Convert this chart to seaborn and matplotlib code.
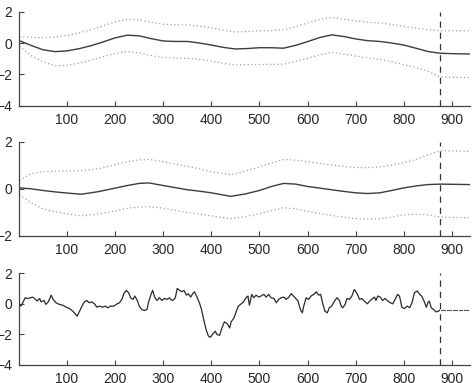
import numpy as np
import pandas as pd
import matplotlib
matplotlib.use('Agg')
import matplotlib.pyplot as plt
import seaborn as sns

# panel 1: smooth estimate with bounds
x1 = [1, 25, 50, 75, 100, 125, 150, 175, 200, 225, 250, 275, 300, 325, 350, 375, 400,
      425, 450, 475, 500, 525, 550, 575, 600, 625, 650, 675, 700, 725, 750, 775, 800,
      825, 850, 876, 900, 938]
mid1 = [0.15, -0.15, -0.43, -0.55, -0.5, -0.36, -0.17, 0.07, 0.33, 0.5, 0.46, 0.28, 0.13,
        0.1, 0.1, 0.0, -0.13, -0.28, -0.38, -0.35, -0.3, -0.3, -0.33, -0.15, 0.09, 0.35,
        0.52, 0.42, 0.26, 0.15, 0.1, 0.0, -0.13, -0.33, -0.54, -0.65, -0.68, -0.7]
up1 = [0.41, 0.37, 0.33, 0.38, 0.48, 0.65, 0.85, 1.1, 1.35, 1.52, 1.48, 1.33, 1.2, 1.17,
       1.15, 1.08, 0.98, 0.82, 0.7, 0.74, 0.78, 0.8, 0.85, 1.05, 1.28, 1.5, 1.63, 1.52,
       1.41, 1.33, 1.28, 1.18, 1.07, 0.95, 0.85, 0.78, 0.78, 0.78]
lo1 = [-0.2, -0.8, -1.2, -1.45, -1.43, -1.28, -1.1, -0.88, -0.67, -0.54, -0.63, -0.8,
       -0.93, -0.96, -0.98, -1.05, -1.15, -1.3, -1.4, -1.38, -1.37, -1.36, -1.35, -1.17,
       -0.98, -0.75, -0.59, -0.7, -0.83, -0.94, -1.04, -1.2, -1.37, -1.57, -1.8, -2.17,
       -2.19, -2.2]

# panel 2
x2 = [1, 25, 50, 75, 100, 130, 165, 200, 225, 250, 270, 300, 325, 350, 375, 400, 440,
      470, 500, 525, 550, 575, 600, 625, 650, 675, 700, 725, 750, 775, 800, 825, 850,
      876, 938]
mid2 = [0.04, 0.0, -0.07, -0.13, -0.18, -0.23, -0.12, 0.03, 0.14, 0.23, 0.25, 0.14, 0.05,
        -0.04, -0.1, -0.17, -0.32, -0.22, -0.07, 0.1, 0.23, 0.2, 0.1, 0.03, -0.04, -0.11,
        -0.17, -0.2, -0.17, -0.07, 0.04, 0.12, 0.18, 0.2, 0.18]
up2 = [0.35, 0.65, 0.73, 0.75, 0.76, 0.77, 0.85, 1.03, 1.15, 1.23, 1.25, 1.15, 1.05, 0.96,
       0.85, 0.73, 0.6, 0.75, 0.93, 1.1, 1.24, 1.22, 1.15, 1.08, 1.01, 0.95, 0.9, 0.9,
       0.93, 1.0, 1.1, 1.25, 1.44, 1.62, 1.59]
lo2 = [-0.24, -0.6, -0.85, -0.97, -1.06, -1.15, -1.07, -0.94, -0.83, -0.77, -0.76, -0.82,
       -0.92, -1.01, -1.08, -1.15, -1.27, -1.18, -1.06, -0.92, -0.8, -0.85, -0.96, -1.05,
       -1.13, -1.2, -1.27, -1.28, -1.27, -1.2, -1.1, -1.08, -1.1, -1.2, -1.23]

# panel 3: raw series
x3 = [1, 4, 8, 13, 18, 24, 29, 34, 38, 43, 46, 52, 56, 61, 67, 71, 77, 84, 91, 98, 105,
      112, 117, 121, 126, 131, 136, 141, 146, 151, 157, 162, 167, 174, 179, 185, 190,
      197, 204, 209, 214, 218, 223, 228, 232, 237, 241, 246, 250, 255, 261, 266, 270,
      275, 278, 282, 287, 292, 297, 302, 308, 313, 315, 320, 325, 329, 334, 339, 343,
      348, 352, 357, 361, 365, 370, 375, 379, 384, 389, 394, 398, 403, 408, 412, 417,
      422, 427, 433, 438, 441, 447, 452, 456, 462, 467, 472, 476, 479, 484, 488, 493,
      498, 503, 509, 514, 519, 524, 530, 535, 540, 545, 551, 555, 560, 566, 569, 574,
      580, 585, 589, 592, 597, 602, 607, 613, 618, 623, 627, 631, 636, 641, 645, 650,
      656, 661, 666, 670, 673, 678, 682, 687, 692, 697, 703, 708, 713, 718, 724, 729,
      733, 739, 742, 746, 751, 756, 761, 767, 772, 777, 782, 787, 791, 796, 801, 807,
      812, 817, 822, 828, 833, 837, 842, 847, 850, 853, 857, 862, 867, 872, 876]
y3 = [-0.03, -0.14, 0.08, 0.41, 0.36, 0.41, 0.45, 0.3, 0.19, 0.36, 0.14, 0.23, -0.03,
      0.14, 0.58, 0.3, 0.08, -0.03, -0.08, -0.21, -0.3, -0.47, -0.65, -0.8, -0.47, -0.14,
      0.14, 0.23, 0.08, 0.14, 0.01, -0.21, -0.14, -0.21, -0.14, -0.25, -0.14, -0.14, 0.01,
      0.08, 0.3, 0.67, 0.89, 0.74, 0.41, 0.3, 0.52, 0.23, -0.14, -0.36, -0.43, -0.36,
      0.19, 0.67, 0.89, 0.45, 0.23, 0.41, 0.23, 0.36, 0.3, 0.41, 0.3, 0.23, 0.41, 1.02,
      0.89, 0.8, 0.89, 0.58, 0.67, 0.45, 0.67, 0.8, 0.45, 0.08, -0.3, -1.02, -1.68,
      -2.12, -2.18, -1.96, -1.79, -2.01, -2.05, -1.57, -1.17, -1.3, -1.57, -1.17, -0.91,
      -0.47, -0.14, 0.01, 0.14, 0.41, 0.52, -0.08, 0.63, 0.41, 0.58, 0.45, 0.52, 0.63,
      0.45, 0.63, 0.41, 0.36, 0.08, 0.3, 0.41, 0.45, 0.3, 0.41, 0.67, 0.58, 0.41, 0.19,
      -0.36, -0.58, -0.14, 0.41, 0.3, 0.52, 0.63, 0.8, 0.58, 0.63, 0.08, -0.47, -0.58,
      -0.25, -0.14, 0.19, 0.41, 0.23, -0.14, -0.25, -0.03, 0.36, 0.3, 0.52, 0.95, 0.67,
      0.3, 0.36, 0.19, 0.01, 0.19, 0.3, 0.45, 0.23, 0.52, 0.45, 0.23, 0.36, 0.19, 0.08,
      0.01, 0.3, 0.63, 0.52, -0.21, -0.3, -0.14, -0.25, 0.08, 0.74, 0.85, 0.63, 0.52,
      0.19, -0.21, 0.08, 0.19, -0.25, -0.36, -0.52, -0.47, -0.38]
x3_flat = [876, 888, 900, 912, 924, 936]
y3_flat = [-0.38, -0.38, -0.38, -0.38, -0.38, -0.38]

cutoff = 876
xticks = [100, 200, 300, 400, 500, 600, 700, 800, 900]

sns.set_style('ticks')
plt.rcParams['font.family'] = ['Liberation Sans', 'DejaVu Sans']
plt.rcParams['font.size'] = 10

fig = plt.figure(figsize=(4.74, 3.83), dpi=100)
left, width = 0.041, 0.951
ax1 = fig.add_axes([left, 0.724, width, 0.2455])
ax2 = fig.add_axes([left, 0.384, width, 0.246])
ax3 = fig.add_axes([left, 0.047, width, 0.239])

solid = '#3c3c3c'
dots = '#a0a0a0'

def band(ax, x, mid, up, lo):
    sns.lineplot(x=x, y=mid, ax=ax, color=solid, lw=1.0)
    sns.lineplot(x=x, y=up, ax=ax, color=dots, lw=0.9, linestyle=(0, (1, 2)))
    sns.lineplot(x=x, y=lo, ax=ax, color=dots, lw=0.9, linestyle=(0, (1, 2)))

band(ax1, x1, mid1, up1, lo1)
band(ax2, x2, mid2, up2, lo2)
sns.lineplot(x=x3, y=y3, ax=ax3, color='#2a2a2a', lw=0.9)
sns.lineplot(x=x3_flat, y=y3_flat, ax=ax3, color='#555555', lw=0.8, marker='|',
             markersize=3.5, markeredgewidth=0.7)

for ax, yl, yt in [(ax1, (-4, 2), [-4, -2, 0, 2]), (ax2, (-2, 2), [-2, 0, 2]),
                   (ax3, (-4, 2), [-4, -2, 0, 2])]:
    ax.axvline(cutoff, color='#333333', lw=0.9, linestyle=(0, (5, 4)))
    ax.set_xlim(1, 938)
    ax.set_ylim(*yl)
    ax.set_xticks(xticks)
    ax.set_yticks(yt)
    ax.set_yticklabels([str(v).replace('-', '\u2212') for v in yt])
    ax.tick_params(direction='in', length=3.5, width=0.8, color='#444444', labelsize=10, pad=5)
    for s in ['left', 'bottom']:
        ax.spines[s].set_color('#444444')
        ax.spines[s].set_linewidth(0.9)
    sns.despine(ax=ax)

fig.savefig('out.png', dpi=100)
